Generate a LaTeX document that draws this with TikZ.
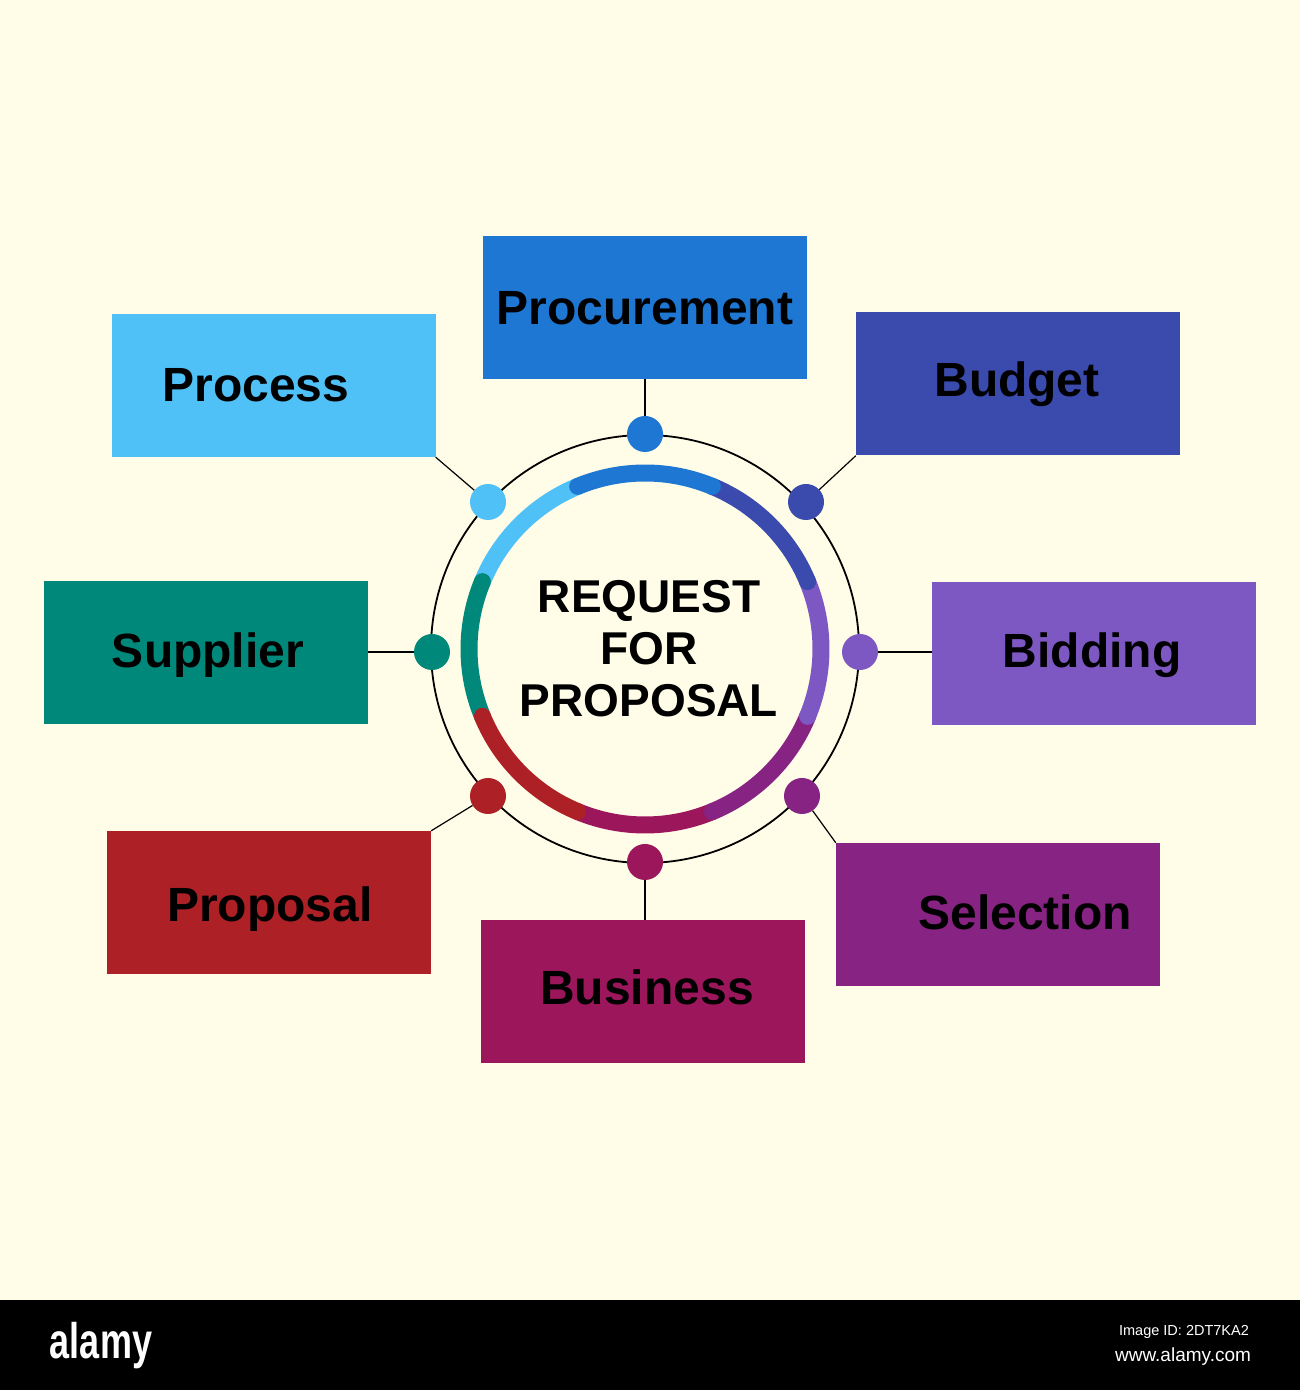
\documentclass[tikz,border=0pt]{standalone}
\usepackage{fontspec}
\setmainfont{Liberation Sans}
\definecolor{bg}{HTML}{FFFDE8}
\definecolor{cProc}{HTML}{1E77D3}
\definecolor{cProcess}{HTML}{4FC1F7}
\definecolor{cBudget}{HTML}{3A4AAD}
\definecolor{cBidding}{HTML}{7E58C2}
\definecolor{cSupplier}{HTML}{00897A}
\definecolor{cProposal}{HTML}{AD2126}
\definecolor{cBusiness}{HTML}{9C165C}
\definecolor{cSelection}{HTML}{862383}
\begin{document}
\begin{tikzpicture}[x=1pt,y=1pt,
  box/.style={draw=none, minimum width=324pt, minimum height=143pt, inner sep=0pt},
  lbl/.style={font=\fontsize{48}{56}\selectfont\bfseries, text=black, inner sep=0pt, anchor=base},
  ttl/.style={font=\fontsize{46}{52}\selectfont\bfseries, text=black, inner sep=0pt, anchor=base},
  dot/.style={circle, minimum size=36pt, inner sep=0pt, draw=none},
  link/.style={draw=black, line width=1.2pt},
  seg/.style={line width=17pt, line cap=round}]
\fill[bg] (0,0) rectangle (1300,1390);
\useasboundingbox (0,0) rectangle (1300,1390);
\coordinate (C) at (645,741);

% boxes
\node[box, fill=cProc] (procurement) at (645,1082.5) {};
\node[box, fill=cProcess] (process) at (273.5,1004.5) {};
\node[box, fill=cBudget] (budget) at (1018,1006) {};
\node[box, fill=cSupplier] (supplier) at (205.5,737.5) {};
\node[box, fill=cBidding] (bidding) at (1094,736.5) {};
\node[box, fill=cProposal] (proposal) at (269,487.5) {};
\node[box, fill=cBusiness] (business) at (643,398.5) {};
\node[box, fill=cSelection] (selection) at (998,475.5) {};

% labels
\node[lbl] (tProc) at (645,1065) {Procurement};
\node[lbl] (tProcess) at (256,988) {Process};
\node[lbl] (tBudget) at (1017,993) {Budget};
\node[lbl] (tSupplier) at (208,722) {Supplier};
\node[lbl] (tBidding) at (1092,722) {Bidding};
\node[lbl] (tProposal) at (270,468) {Proposal};
\node[lbl] (tBusiness) at (647,385) {Business};
\node[lbl] (tSelection) at (1025,460) {Selection};

% outer circle
\draw[black, line width=1.8pt] (C) circle[radius=214];

% ring segments
\draw[seg, cProcess] ([shift={(C)}]112.5:176) arc[start angle=112.5, end angle=157.5, radius=176];
\draw[seg, cBusiness] ([shift={(C)}]-112.5:176) arc[start angle=-112.5, end angle=-67.5, radius=176];
\draw[seg, cSupplier] ([shift={(C)}]157.5:176) arc[start angle=157.5, end angle=202.5, radius=176];
\draw[seg, cProposal] ([shift={(C)}]202.5:176) arc[start angle=202.5, end angle=247.5, radius=176];
\draw[seg, cSelection] ([shift={(C)}]-67.5:176) arc[start angle=-67.5, end angle=-22.5, radius=176];
\draw[seg, cBidding] ([shift={(C)}]-22.5:176) arc[start angle=-22.5, end angle=22.5, radius=176];
\draw[seg, cBudget] ([shift={(C)}]22.5:176) arc[start angle=22.5, end angle=67.5, radius=176];
\draw[seg, cProc] ([shift={(C)}]67.5:176) arc[start angle=67.5, end angle=112.5, radius=176];

% dots
\node[dot, fill=cProc] (dProc) at (645,956) {};
\node[dot, fill=cBudget] (dBudget) at (806,888) {};
\node[dot, fill=cBidding] (dBidding) at (860,738) {};
\node[dot, fill=cSelection] (dSelection) at (802,594) {};
\node[dot, fill=cBusiness] (dBusiness) at (645,528) {};
\node[dot, fill=cProposal] (dProposal) at (488,594) {};
\node[dot, fill=cSupplier] (dSupplier) at (432,738) {};
\node[dot, fill=cProcess] (dProcess) at (488,888) {};

% connectors
\draw[link] (dProc) -- (procurement.south);
\draw[link] (dBudget) -- (budget.south west);
\draw[link] (dBidding) -- (dBidding -| bidding.west);
\draw[link] (dSelection) -- (selection.north west);
\draw[link] (dBusiness) -- (dBusiness |- business.north);
\draw[link] (dProposal) -- (proposal.north east);
\draw[link] (dSupplier) -- (dSupplier -| supplier.east);
\draw[link] (dProcess) -- (process.south east);

% centre title
\node[ttl] (t1) at (649,777) {REQUEST};
\node[ttl] (t2) at (649,725) {FOR};
\node[ttl] (t3) at (649,673) {PROPOSAL};

% bottom bar
\fill[black] (0,0) rectangle (1300,90);
\node[text=white, inner sep=0pt, font=\fontsize{50}{56}\selectfont\bfseries, xscale=0.72] (logo) at (101,44) {alamy};
\node[text=white, inner sep=0pt, font=\fontsize{14.5}{17}\selectfont] (imgid) at (1184,58) {Image ID: 2DT7KA2};
\node[text=white, inner sep=0pt, font=\fontsize{19}{22}\selectfont] (url) at (1183,33) {www.alamy.com};
\end{tikzpicture}
\end{document}
